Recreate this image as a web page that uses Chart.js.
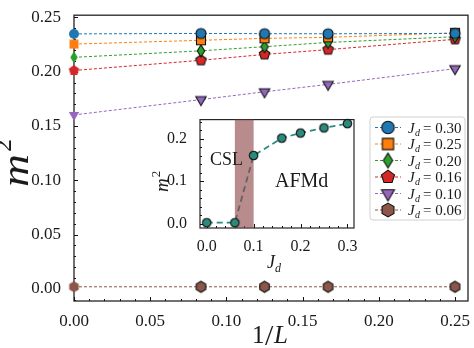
<!DOCTYPE html>
<html lang="en">
<head>
<meta charset="UTF-8">
<title>m2 vs 1/L</title>
<script src="https://cdn.jsdelivr.net/npm/chart.js"></script>
<style>
  html, body { margin: 0; padding: 0; background: #fff; }
  #wrap { position: relative; width: 474px; height: 348px; }
  #main { position: absolute; left: 0; top: 0; }
  #inset { position: absolute; left: 150px; top: 105px; }
</style>
</head>
<body>
<div id="wrap">
  <canvas id="main" width="474" height="348"></canvas>
  <canvas id="inset" width="215" height="175"></canvas>
</div>
<script>
// values
const invL = [0, 0.0833, 0.125, 0.1667, 0.25];
const m2_Jd030 = [0.2348, 0.2352, 0.2350, 0.2349, 0.2352];
const m2_Jd025 = [0.2254, 0.2289, 0.2307, 0.2316, 0.2358];
const m2_Jd020 = [0.2132, 0.2192, 0.2230, 0.2269, 0.2322];
const m2_Jd016 = [0.2011, 0.2105, 0.2159, 0.2203, 0.2298];
const m2_Jd010 = [0.1602, 0.1743, 0.1815, 0.1883, 0.2028];
const m2_Jd006 = [0.002, 0.002, 0.002, 0.002, 0.002];
const jdLabels = ['0.30', '0.25', '0.20', '0.16', '0.10', '0.06'];
const xTicks = [0, 0.05, 0.10, 0.15, 0.20, 0.25];
const yTicks = [0, 0.05, 0.10, 0.15, 0.20, 0.25];

// inset
const insetJd = [0, 0.06, 0.10, 0.16, 0.20, 0.25, 0.30];
const insetM2 = [0.002, 0.002, 0.160, 0.201, 0.213, 0.225, 0.235];
const insetXTicks = [0, 0.1, 0.2, 0.3];
const insetYTicks = [0, 0.1, 0.2];
const cslRange = [0.06, 0.10];

const SERIF = '"Liberation Serif", "DejaVu Serif", serif';
const INK = '#1a1a1a';

// matplotlib-like marker sprites
function marker(shape, fill, edge, size) {
  const pad = 2, d = Math.ceil(size + 2 * pad);
  const c = document.createElement('canvas');
  c.width = c.height = d;
  const g = c.getContext('2d');
  const r = size / 2;
  g.translate(d / 2, d / 2);
  g.beginPath();
  const poly = (n, start, sx) => {
    for (let i = 0; i < n; i++) {
      const a = start + i * 2 * Math.PI / n;
      const px = Math.cos(a) * r * (sx || 1), py = Math.sin(a) * r;
      if (i === 0) g.moveTo(px, py); else g.lineTo(px, py);
    }
    g.closePath();
  };
  if (shape === 'circle') g.arc(0, 0, r, 0, Math.PI * 2);
  else if (shape === 'square') g.rect(-r * 0.9, -r * 0.9, r * 1.8, r * 1.8);
  else if (shape === 'thin_diamond') poly(4, -Math.PI / 2, 0.62);
  else if (shape === 'pentagon') poly(5, -Math.PI / 2);
  else if (shape === 'triangle_down') poly(3, Math.PI / 2);
  else if (shape === 'hexagon') poly(6, -Math.PI / 2);
  g.fillStyle = fill;
  g.fill();
  if (edge) { g.lineWidth = 1.1; g.strokeStyle = edge; g.stroke(); }
  return c;
}

const seriesDefs = [
  { vals: m2_Jd030, color: '#1f77b4', shape: 'circle', size: 10 },
  { vals: m2_Jd025, color: '#ff7f0e', shape: 'square', size: 10 },
  { vals: m2_Jd020, color: '#2ca02c', shape: 'thin_diamond', size: 12 },
  { vals: m2_Jd016, color: '#d62728', shape: 'pentagon', size: 11 },
  { vals: m2_Jd010, color: '#9467bd', shape: 'triangle_down', size: 12 },
  { vals: m2_Jd006, color: '#8c564b', shape: 'hexagon', size: 11 }
];
seriesDefs.forEach(s => {
  s.plain = marker(s.shape, s.color, null, s.size);
  s.edged = marker(s.shape, s.color, '#111', s.size);
  s.legend = marker(s.shape, s.color, '#111', s.size * 1.25);
});

// frame + inward ticks
function frameTicks(id, xMajor, yMajor, xMinor, yMinor, lw) {
  return {
    id: id,
    beforeDatasetsDraw(chart) {
      const { ctx, chartArea: a, scales: { x, y } } = chart;
      ctx.save();
      ctx.strokeStyle = '#262626';
      ctx.lineWidth = lw;
      ctx.strokeRect(a.left, a.top, a.right - a.left, a.bottom - a.top);
      ctx.lineWidth = 1;
      ctx.strokeStyle = '#111';
      ctx.beginPath();
      const isMajor = (v, list) => list.some(t => Math.abs(t - v) < 1e-9);
      for (let k = Math.ceil(x.min / xMinor - 1e-9); k * xMinor <= x.max + 1e-9; k++) {
        const v = k * xMinor, px = Math.round(x.getPixelForValue(v)) + 0.5;
        const len = isMajor(v, xMajor) ? 4 : 2;
        ctx.moveTo(px, a.bottom); ctx.lineTo(px, a.bottom - len);
      }
      for (let k = Math.ceil(y.min / yMinor - 1e-9); k * yMinor <= y.max + 1e-9; k++) {
        const v = k * yMinor, py = Math.round(y.getPixelForValue(v)) + 0.5;
        const len = isMajor(v, yMajor) ? 4 : 2;
        ctx.moveTo(a.left, py); ctx.lineTo(a.left + len, py);
      }
      ctx.stroke();
      ctx.restore();
    }
  };
}

// axis titles of the main plot
const mainTitles = {
  id: 'mainTitles',
  afterDraw(chart) {
    const ctx = chart.ctx;
    ctx.save();
    ctx.fillStyle = INK;
    ctx.textBaseline = 'alphabetic';
    ctx.translate(28, 187);
    ctx.rotate(-Math.PI / 2);
    ctx.font = 'italic 38px ' + SERIF;
    ctx.save(); ctx.scale(1.2, 1); ctx.fillText('m', 0, 0); ctx.restore();
    const mw = ctx.measureText('m').width * 1.2;
    ctx.font = '26px ' + SERIF;
    ctx.fillText('2', mw + 2, -17);
    ctx.restore();

    ctx.save();
    ctx.fillStyle = INK;
    ctx.font = '25px ' + SERIF;
    ctx.fillText('1', 252, 343);
    ctx.font = '30px ' + SERIF;
    ctx.fillText('/', 265, 345);
    ctx.font = 'italic 25px ' + SERIF;
    ctx.fillText('L', 274, 343);
    ctx.restore();
  }
};

// legend box
const mainLegend = {
  id: 'mainLegend',
  afterDraw(chart) {
    const ctx = chart.ctx;
    const bx = 370, by = 117, bw = 95, bh = 103, rr = 3;
    ctx.save();
    ctx.beginPath();
    ctx.moveTo(bx + rr, by);
    ctx.arcTo(bx + bw, by, bx + bw, by + bh, rr);
    ctx.arcTo(bx + bw, by + bh, bx, by + bh, rr);
    ctx.arcTo(bx, by + bh, bx, by, rr);
    ctx.arcTo(bx, by, bx + bw, by, rr);
    ctx.closePath();
    ctx.fillStyle = 'rgba(255,255,255,0.85)';
    ctx.fill();
    ctx.strokeStyle = '#d0d0d0';
    ctx.lineWidth = 1;
    ctx.stroke();
    seriesDefs.forEach((s, i) => {
      const cy = 127.5 + i * 16.5;
      ctx.setLineDash([3, 2]);
      ctx.strokeStyle = s.color;
      ctx.beginPath();
      ctx.moveTo(375, cy); ctx.lineTo(401, cy);
      ctx.stroke();
      ctx.setLineDash([]);
      ctx.drawImage(s.legend, 388 - s.legend.width / 2, cy - s.legend.height / 2);
      ctx.fillStyle = INK;
      ctx.font = 'italic 15px ' + SERIF;
      ctx.fillText('J', 408, cy + 5);
      ctx.font = 'italic 10px ' + SERIF;
      ctx.fillText('d', 415, cy + 8);
      ctx.font = '15px ' + SERIF;
      ctx.fillText('= ' + jdLabels[i], 423, cy + 5);
    });
    ctx.restore();
  }
};

new Chart(document.getElementById('main'), {
  type: 'line',
  data: {
    datasets: seriesDefs.map((s, i) => ({
      label: 'J_d = ' + jdLabels[i],
      data: invL.map((x, j) => ({ x: x, y: s.vals[j] })),
      borderColor: s.color,
      borderWidth: 1,
      borderDash: [3, 2],
      pointStyle: c => (c.dataIndex === 0 ? s.plain : s.edged),
      pointRadius: 5,
      clip: false
    }))
  },
  options: {
    responsive: false,
    animation: false,
    devicePixelRatio: 1,
    layout: { padding: { top: 5, right: 4, left: 0, bottom: 0 } },
    plugins: { legend: { display: false }, tooltip: { enabled: false } },
    scales: {
      x: {
        type: 'linear', min: 0, max: 0.2585,
        afterBuildTicks: s => { s.ticks = xTicks.map(v => ({ value: v })); },
        afterFit: s => { s.height = 47; },
        ticks: { callback: v => v.toFixed(2), font: { family: SERIF, size: 17 }, color: INK, padding: 2, maxRotation: 0, autoSkip: false },
        grid: { display: false }, border: { display: false }
      },
      y: {
        type: 'linear', min: -0.0111, max: 0.252,
        afterBuildTicks: s => { s.ticks = yTicks.map(v => ({ value: v })); },
        afterFit: s => { s.width = 74; },
        ticks: { callback: v => v.toFixed(2), font: { family: SERIF, size: 17 }, color: INK, padding: 5, autoSkip: false },
        grid: { display: false }, border: { display: false }
      }
    }
  },
  plugins: [frameTicks('mainFrame', xTicks, yTicks, 0.01, 0.01, 1.3), mainTitles, mainLegend]
});

// inset: m^2 at 1/L = 0 versus J_d
const teal = '#2a8a7e';
const insetDot = marker('circle', teal, '#111', 8.5);

const cslShade = {
  id: 'cslShade',
  afterDatasetDraw(chart, args) {
    if (args.index !== 1) return;
    const { ctx, chartArea: a, scales: { x } } = chart;
    const x0 = x.getPixelForValue(cslRange[0]), x1 = x.getPixelForValue(cslRange[1]);
    ctx.save();
    ctx.fillStyle = 'rgba(140,70,70,0.62)';
    ctx.fillRect(x0, a.top, x1 - x0, a.bottom - a.top);
    ctx.restore();
  }
};

const insetText = {
  id: 'insetText',
  afterDraw(chart) {
    const ctx = chart.ctx;
    ctx.save();
    ctx.fillStyle = INK;
    ctx.font = '18px ' + SERIF;
    ctx.fillText('CSL', 60, 60);
    ctx.font = '20px ' + SERIF;
    ctx.fillText('AFMd', 125, 82);
    ctx.font = 'italic 18px ' + SERIF;
    ctx.fillText('J', 117, 163);
    ctx.font = 'italic 12px ' + SERIF;
    ctx.fillText('d', 125, 167);
    ctx.translate(18, 87);
    ctx.rotate(-Math.PI / 2);
    ctx.font = 'italic 19px ' + SERIF;
    ctx.fillText('m', 0, 0);
    const mw = ctx.measureText('m').width;
    ctx.font = '13px ' + SERIF;
    ctx.fillText('2', mw + 1, -8);
    ctx.restore();
  }
};

new Chart(document.getElementById('inset'), {
  type: 'line',
  data: {
    datasets: [
      {
        label: 'points',
        data: insetJd.map((x, i) => ({ x: x, y: insetM2[i] })),
        showLine: false,
        pointStyle: insetDot,
        pointRadius: 4,
        clip: false
      },
      {
        label: 'line',
        data: insetJd.map((x, i) => ({ x: x, y: insetM2[i] })),
        borderColor: teal,
        borderWidth: 1.8,
        borderDash: [6, 4],
        pointRadius: 0,
        clip: false
      }
    ]
  },
  options: {
    responsive: false,
    animation: false,
    devicePixelRatio: 1,
    layout: { padding: { top: 9, right: 11, left: 0, bottom: 0 } },
    plugins: { legend: { display: false }, tooltip: { enabled: false } },
    scales: {
      x: {
        type: 'linear', min: -0.0143, max: 0.314,
        afterBuildTicks: s => { s.ticks = insetXTicks.map(v => ({ value: v })); },
        afterFit: s => { s.height = 52; },
        ticks: { callback: v => v.toFixed(1), font: { family: SERIF, size: 16 }, color: INK, padding: 1, maxRotation: 0, autoSkip: false },
        grid: { display: false }, border: { display: false }
      },
      y: {
        type: 'linear', min: -0.0105, max: 0.2446,
        afterBuildTicks: s => { s.ticks = insetYTicks.map(v => ({ value: v })); },
        afterFit: s => { s.width = 50; },
        ticks: { callback: v => v.toFixed(1), font: { family: SERIF, size: 16 }, color: INK, padding: 5, autoSkip: false },
        grid: { display: false }, border: { display: false }
      }
    }
  },
  plugins: [frameTicks('insetFrame', insetXTicks, insetYTicks, 0.02, 0.02, 1.2), cslShade, insetText]
});
</script>
</body>
</html>
